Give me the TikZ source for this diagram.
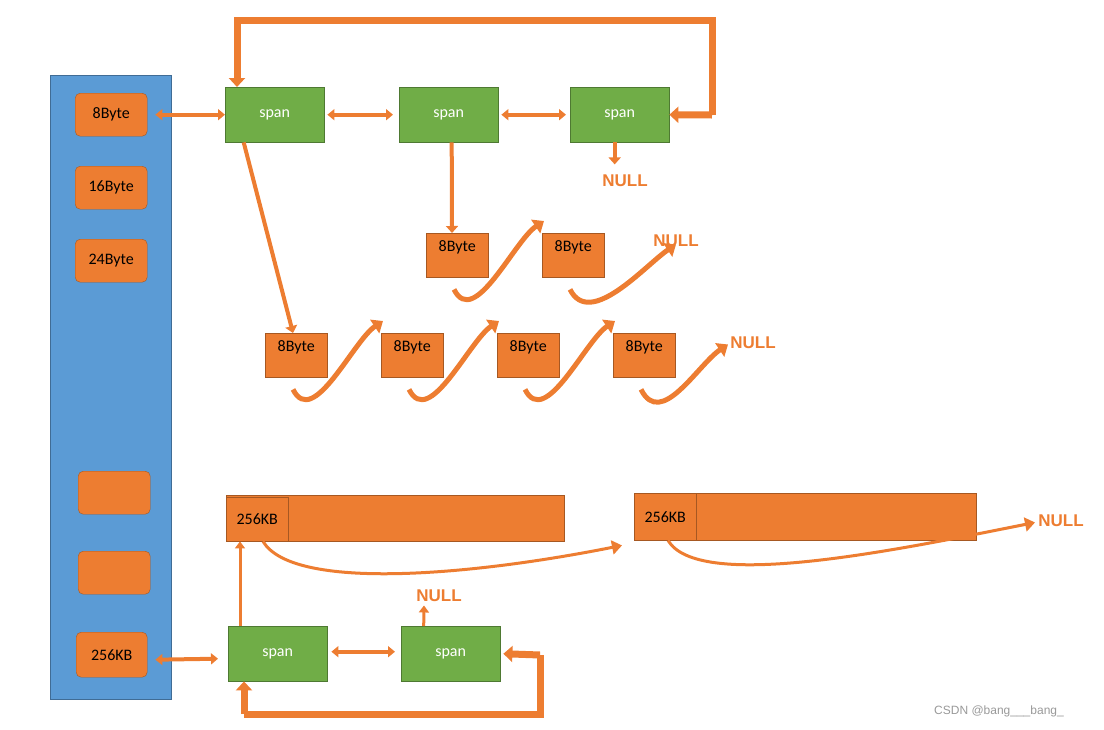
\documentclass[tikz,border=0pt]{standalone}
\usepackage{fontspec}
\setmainfont{Carlito}
\newfontfamily\nulfnt{Liberation Sans}
\usetikzlibrary{arrows.meta}
\definecolor{panelblue}{HTML}{5B9BD5}
\definecolor{boxorange}{HTML}{ED7D31}
\definecolor{spangreen}{HTML}{70AD47}
\tikzset{
  blk/.style={draw=boxorange!70!black,fill=boxorange,inner sep=0pt,font=\fontsize{16}{18}\selectfont,anchor=north west},
  lbox/.style={blk,rounded corners=5pt},
  span/.style={draw=spangreen!70!black,fill=spangreen,text=white,minimum width=99pt,minimum height=55pt,anchor=north west,font=\fontsize{16}{18}\selectfont},
  nul/.style={text=boxorange,font=\nulfnt\bfseries\fontsize{17}{19}\selectfont},
  dbl/.style={draw=boxorange,line width=4pt,{Triangle[length=7pt,width=11pt]}-{Triangle[length=7pt,width=11pt]}},
  one/.style={draw=boxorange,line width=4pt,-{Triangle[length=7pt,width=12pt]}},
  loop/.style={draw=boxorange,line width=7pt,-{Triangle[length=9pt,width=16pt]}},
  crv/.style={draw=boxorange,line width=5pt,-{Triangle[length=10pt,width=16pt]}},
}
\begin{document}
\begin{tikzpicture}[x=1pt,y=-1pt]
\useasboundingbox (0,0) rectangle (1104,729);
% left panel
\fill[panelblue,draw=panelblue!70!black] (50,75) rectangle (171,699);
\node[lbox,minimum width=72pt,minimum height=43pt] (b8) at (75,93) {8Byte};
\node[lbox,minimum width=72pt,minimum height=43pt] (b16) at (75,166) {16Byte};
\node[lbox,minimum width=72pt,minimum height=43pt] (b24) at (75,239) {24Byte};
\node[lbox,minimum width=72pt,minimum height=43pt] (bx1) at (78,471) {};
\node[lbox,minimum width=72pt,minimum height=43pt] (bx2) at (78,551) {};
\node[lbox,minimum width=71pt,minimum height=45pt] (b256) at (76,632) {256KB};
% spans
\node[span] (s1) at (225,87) {span};
\node[span] (s2) at (399,87) {span};
\node[span] (s3) at (570,87) {span};
\node[span] (t1) at (228,626) {span};
\node[span] (t2) at (401,626) {span};
% NULLs
\node[nul] (n1) at (625,181) {NULL};
\node[nul] (n2) at (676,241) {NULL};
\node[nul] (n3) at (753,343) {NULL};
\node[nul] (n4) at (439,596) {NULL};
\node[nul] (n5) at (1061,521) {NULL};
% small 8Byte blocks
\foreach \n/\x/\y in {a1/426/233,a2/542/233,c1/265/333,c2/381/333,c3/497/333,c4/613/333}
  \node[blk,minimum width=62pt,minimum height=44pt,text depth=18pt] (\n) at (\x,\y) {8Byte};
% 256KB bars
\node[blk,minimum width=338pt,minimum height=46pt] (k1) at (226,495) {};
\node[blk,minimum width=62pt,minimum height=44pt] (k1a) at (226,497) {256KB};
\node[blk,minimum width=342pt,minimum height=47pt] (k2) at (634,493) {};
\node[blk,minimum width=62pt,minimum height=47pt] (k2a) at (634,493) {256KB};
% double arrows
\draw[dbl] ([xshift=8pt]b8.east) -- (s1.west);
\draw[dbl] ([xshift=3pt]s1.east) -- ([xshift=-6pt]s2.west);
\draw[dbl] ([xshift=3pt]s2.east) -- ([xshift=-4pt]s3.west);
\draw[dbl] ([xshift=8pt,yshift=-5pt]b256.east) -- ([xshift=-10pt,yshift=-5pt]t1.west);
\draw[dbl] ([xshift=4pt,yshift=2pt]t1.east) -- ([xshift=-6pt,yshift=2pt]t2.west);
% top loop
\coordinate (la) at (712,115);
\coordinate (lb) at (237,20);
\draw[loop] (la) |- (lb) -- ([xshift=12pt]s1.north west);
\draw[draw=boxorange,line width=7pt,{Triangle[length=9pt,width=16pt]}-] (s3.east) -- (la);
% bottom loop
\coordinate (ma) at (540,655);
\coordinate (mb) at (244,714);
\draw[draw=boxorange,line width=7pt] (ma) |- (mb);
\draw[draw=boxorange,line width=7pt,{Triangle[length=9pt,width=16pt]}-] ([xshift=3pt]t2.east) -- (ma);
\draw[loop] (mb) -- ([xshift=16pt]t1.south west);
% vertical arrows
\draw[one] ([xshift=-5pt]s3.south) -- ++(0,22);
\draw[one] ([xshift=-31pt]s1.south) -- ([xshift=28pt]c1.north west);
\draw[one] ([xshift=3pt]s2.south) -- ([xshift=26pt]a1.north west);
\draw[draw=boxorange,line width=3pt,-{Triangle[length=7pt,width=10pt]}] ([xshift=12pt]t1.north west) -- ([xshift=14pt]k1.south west);
\draw[draw=boxorange,line width=3pt,-{Triangle[length=7pt,width=10pt]}] ([xshift=-27pt]t2.north) -- ([xshift=-15pt]n4.south);
% curved arrows between blocks
\draw[crv] ([xshift=28pt,yshift=-12pt]a1.south west) .. controls +(20,40) and +(-30,20) .. ([xshift=2pt,yshift=12pt]a2.north west);
\draw[crv] ([xshift=28pt,yshift=-12pt]a2.south west) .. controls +(20,40) and +(-30,20) .. ([yshift=6pt]n2.south);
\draw[crv] ([xshift=28pt,yshift=-12pt]c1.south west) .. controls +(20,40) and +(-30,20) .. ([xshift=2pt,yshift=12pt]c2.north west);
\draw[crv] ([xshift=28pt,yshift=-12pt]c2.south west) .. controls +(20,40) and +(-30,20) .. ([xshift=2pt,yshift=12pt]c3.north west);
\draw[crv] ([xshift=28pt,yshift=-12pt]c3.south west) .. controls +(20,40) and +(-30,20) .. ([xshift=2pt,yshift=12pt]c4.north west);
\draw[crv] ([xshift=28pt,yshift=-12pt]c4.south west) .. controls +(20,40) and +(-30,20) .. ([xshift=-25pt,yshift=8pt]n3.south);
\draw[draw=boxorange,line width=3pt,-{Triangle[length=10pt,width=14pt]}] ([xshift=37pt]k1.south west) .. controls +(30,50) and +(-150,30) .. ([xshift=-12pt,yshift=-5pt]k2.south west);
\draw[draw=boxorange,line width=3pt,-{Triangle[length=10pt,width=14pt]}] ([xshift=34pt]k2.south west) .. controls +(30,50) and +(-150,30) .. ([xshift=-26pt,yshift=8pt]n5.south);
% watermark
\node[text=gray!80,font=\nulfnt\fontsize{12}{14}\selectfont] (wm) at (999,711) {CSDN @bang\_\_\_bang\_};
\end{tikzpicture}
\end{document}
